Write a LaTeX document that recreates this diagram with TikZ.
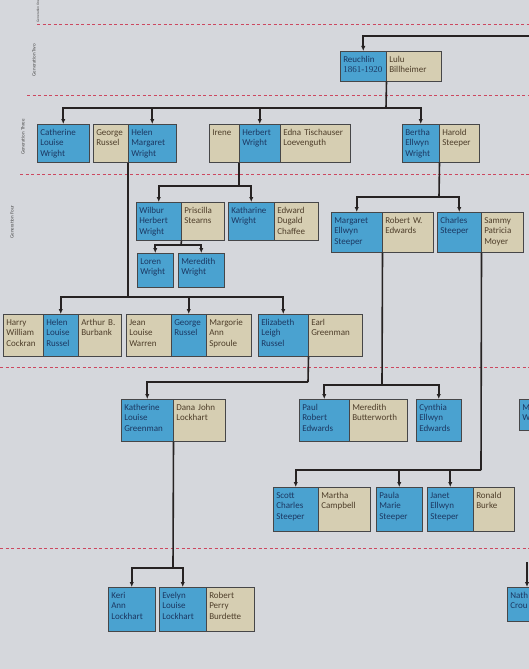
\documentclass[tikz,border=0pt]{standalone}
\usepackage{fontspec}
\setmainfont{Carlito}
\newfontfamily\datefont{Liberation Serif}
\usetikzlibrary{arrows.meta}
\definecolor{pblue}{RGB}{74,162,208}
\definecolor{ptan}{RGB}{214,206,178}
\definecolor{pnavy}{RGB}{28,56,98}
\definecolor{pbrown}{RGB}{78,62,42}
\definecolor{boxline}{RGB}{70,70,72}
\definecolor{wall}{RGB}{213,215,220}
\definecolor{gline}{RGB}{204,72,96}
\definecolor{tline}{RGB}{38,34,34}
\newcommand\boxfont{\fontsize{9}{10.5}\selectfont}
\begin{document}
\begin{tikzpicture}[x=1pt, y=-1pt,
  box/.style={rectangle, draw=boxline, line width=.5pt, anchor=north west, align=left,
    inner xsep=3pt, inner ysep=0pt, text height=11pt, font=\boxfont},
  blood/.style={box, fill=pblue, text=pnavy, text width=#1pt},
  spouse/.style={box, fill=ptan, text=pbrown, text width=#1pt},
  h30/.style={text depth=19pt}, h31/.style={text depth=20pt},
  h34/.style={text depth=23pt}, h38/.style={text depth=27pt},
  h40/.style={text depth=29pt}, h42/.style={text depth=31pt},
  h44/.style={text depth=33pt},
  gen/.style={rotate=90, font=\fontsize{5}{6}\selectfont, text=black!70},
  genline/.style={gline, line width=.8pt, dash pattern=on 3pt off 2.5pt},
  link/.style={tline, line width=1.6pt},
  >={Latex[length=5pt,width=4.5pt]}]
\useasboundingbox (0,0) rectangle (529,669);
\fill[wall] (0,0) rectangle (529,669);
\clip (0,0) rectangle (529,669);
\draw[genline] (37,24) -- (529,24);
\draw[genline] (27,95) -- (529,95);
\draw[genline] (20,174) -- (529,174);
\draw[genline] (0,367) -- (529,367);
\draw[genline] (0,548) -- (529,548);
\node[gen, font=\fontsize{3.5}{4}\selectfont, inner sep=1pt] (g1) at (38,11) {Generation One};
\node[gen] (g2) at (34,60) {Generation Two};
\node[gen] (g3) at (23,137) {Generation Three};
\node[gen] (g4) at (12,222) {Generation Four};

\node[blood=40, h30] (reu) at (340,51) {Reuchlin\\{\datefont 1861-1920}};
\node[spouse=49, h30] (lulu) at (386,51) {Lulu\\Billheimer};

\node[blood=46, h38] (cath) at (37,124) {Catherine\\Louise\\Wright};
\node[spouse=29, h38] (geo) at (93,124) {George\\Russel};
\node[blood=42, h38] (helen) at (128,124) {Helen\\Margaret\\Wright};
\node[spouse=24, h38] (irene) at (209,124) {Irene};
\node[blood=35, h38] (herb) at (239,124) {Herbert\\Wright};
\node[spouse=64, h38] (edna) at (280,124) {Edna Tischauser\\Loevenguth};
\node[blood=31, h38] (bertha) at (402,124) {Bertha\\Ellwyn\\Wright};
\node[spouse=34, h38] (harold) at (439,124) {Harold\\Steeper};

\node[blood=39, h38] (wilbur) at (136,202) {Wilbur\\Herbert\\Wright};
\node[spouse=37, h38] (pris) at (181,202) {Priscilla\\Stearns};
\node[blood=40, h38] (kath) at (228,202) {Katharine\\Wright};
\node[spouse=38, h38] (edw) at (274,202) {Edward\\Dugald\\Chaffee};
\node[blood=45, h40] (marg) at (331,212) {Margaret\\Ellwyn\\Steeper};
\node[spouse=45, h40] (robw) at (382,212) {Robert W.\\Edwards};
\node[blood=38, h40] (charles) at (437,212) {Charles\\Steeper};
\node[spouse=36, h40] (sammy) at (481,212) {Sammy\\Patricia\\Moyer};
\node[blood=30, h34] (loren) at (137,253) {Loren\\Wright};
\node[blood=40, h34] (mered) at (178,253) {Meredith\\Wright};

\node[spouse=34, h42] (harry) at (3,314) {Harry\\William\\Cockran};
\node[blood=29, h42] (helen2) at (43,314) {Helen\\Louise\\Russel};
\node[spouse=37, h42] (arthur) at (78,314) {Arthur B.\\Burbank};
\node[spouse=39, h42] (jean) at (126,314) {Jean\\Louise\\Warren};
\node[blood=29, h42] (geo2) at (171,314) {George\\Russel};
\node[spouse=39, h42] (margo) at (206,314) {Margorie\\Ann\\Sproule};
\node[blood=44, h42] (eliz) at (258,314) {Elizabeth\\Leigh\\Russel};
\node[spouse=48, h42] (earl) at (308,314) {Earl\\Greenman};

\node[blood=46, h42] (kath2) at (121,399) {Katherine\\Louise\\Greenman};
\node[spouse=46, h42] (dana) at (173,399) {Dana John\\Lockhart};
\node[blood=44, h42] (paul) at (299,399) {Paul\\Robert\\Edwards};
\node[spouse=52, h42] (meredb) at (349,399) {Meredith\\Butterworth};
\node[blood=39, h42] (cyn) at (416,399) {Cynthia\\Ellwyn\\Edwards};
\node[blood=34, h31] (mw) at (519,399) {M\\W};

\node[blood=39, h44] (scott) at (273,487) {Scott\\Charles\\Steeper};
\node[spouse=46, h44] (martha) at (318,487) {Martha\\Campbell};
\node[blood=40, h44] (paula) at (376,487) {Paula\\Marie\\Steeper};
\node[blood=40, h44] (janet) at (427,487) {Janet\\Ellwyn\\Steeper};
\node[spouse=35, h44] (ronald) at (473,487) {Ronald\\Burke};

\node[blood=41, h44] (keri) at (108,587) {Keri\\Ann\\Lockhart};
\node[blood=41, h44] (evelyn) at (159,587) {Evelyn\\Louise\\Lockhart};
\node[spouse=42, h44] (robp) at (206,587) {Robert\\Perry\\Burdette};
\node[blood=34, h34] (nath) at (507,587) {Nath\\Crou};

\coordinate (in1) at (529,36);
\draw[link,->] (in1) -| (reu.north);
\coordinate (j1) at (386,108);
\draw[link] (reu.south east) -- (j1);
\draw[link,->] (j1) -| (cath.north);
\draw[link,->] (j1) -| (helen.north);
\draw[link,->] (j1) -| (herb.north);
\draw[link,->] (j1) -| (bertha.north);
\coordinate (j2) at (128,297);
\draw[link] (helen.south west) -- (j2);
\draw[link,->] (j2) -| (helen2.north);
\draw[link,->] (j2) -| (geo2.north);
\draw[link,->] (j2) -| (eliz.north);
\coordinate (j3) at (239,186);
\draw[link] (herb.south west) -- (j3);
\draw[link,->] (j3) -| (wilbur.north);
\draw[link,->] (j3) -| (kath.north);
\coordinate (j4) at (439,197);
\draw[link] (bertha.south east) -- (j4);
\draw[link,->] (j4) -| (marg.north);
\draw[link,->] (j4) -| (charles.north);
\coordinate (j5) at (181,245);
\draw[link] (wilbur.south east) -- (j5);
\draw[link,->] (j5) -| (loren.north);
\draw[link,->] (j5) -| (mered.north);
\coordinate (j6) at (308,382);
\draw[link] (eliz.south east) -- (j6);
\draw[link,->] (j6) -| (kath2.north);
\coordinate (j7) at (382,385);
\draw[link] (marg.south east) -- (j7);
\draw[link,->] (j7) -| (paul.north);
\draw[link,->] (j7) -| (cyn.north);
\coordinate (j8) at (481,470);
\draw[link] (charles.south east) -- (j8);
\draw[link,->] (j8) -| (scott.north);
\draw[link,->] (j8) -| (paula.north);
\draw[link,->] (j8) -| (janet.north);
\coordinate (j9) at (173,568);
\draw[link] (kath2.south east) -- (j9);
\draw[link,->] (j9) -| (keri.north);
\draw[link,->] (j9) -| (evelyn.north);
\coordinate (in2) at (527,562);
\draw[link,->] (in2) -- (in2 |- nath.north);
\end{tikzpicture}
\end{document}
